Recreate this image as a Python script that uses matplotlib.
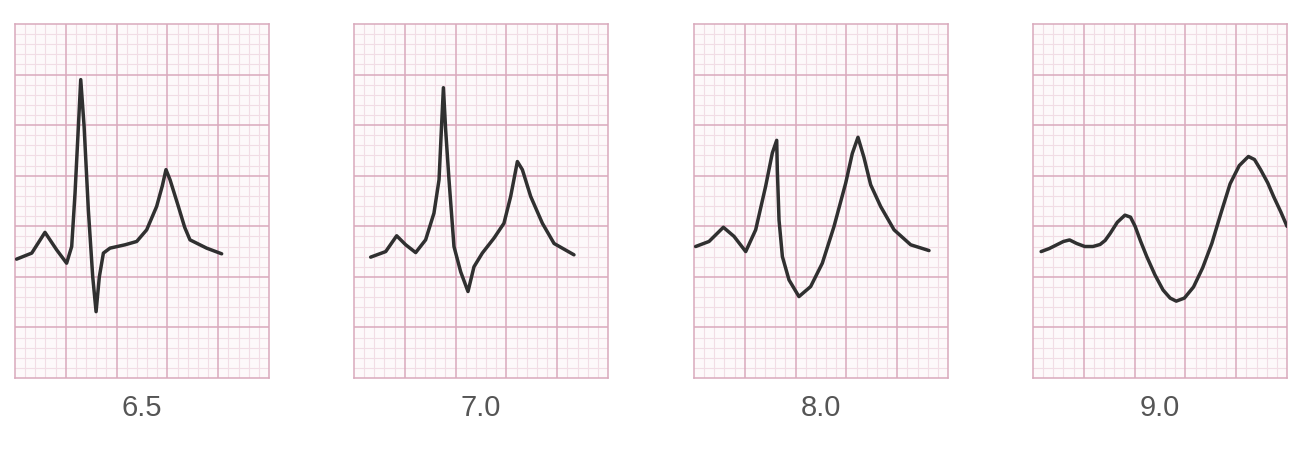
import matplotlib.pyplot as plt

# potassium levels shown under each strip
labels = ["6.5", "7.0", "8.0", "9.0"]

# traces, in mm (x: 0..25, y: 0..35)
x_65 = [0.15, 1.65, 2.95, 4.1, 5.08, 5.58, 5.91, 6.24, 6.47, 6.8, 7.22, 7.65, 7.98, 8.3, 8.7, 9.35,
        10.83, 11.98, 12.96, 13.94, 14.5, 14.86, 15.26, 16.08, 16.7, 17.22, 18.86, 20.34]
y_65 = [11.75, 12.35, 14.4, 12.67, 11.35, 13.0, 18.3, 24.9, 29.5, 24.9, 16.6, 10.0, 6.56, 10.0, 12.35,
        12.84, 13.17, 13.5, 14.65, 16.96, 19.0, 20.6, 19.6, 16.96, 14.9, 13.66, 12.84, 12.28]

x_70 = [1.64, 3.12, 4.2, 5.09, 6.07, 7.05, 7.87, 8.37, 8.6, 8.8, 9.02, 9.35, 9.84, 10.5, 11.22, 11.81,
        12.63, 13.78, 14.76, 15.42, 16.08, 16.57, 17.39, 18.54, 19.69, 21.65]
y_70 = [11.95, 12.5, 14.06, 13.17, 12.4, 13.66, 16.3, 19.6, 24.55, 28.7, 24.55, 19.6, 13.0, 10.5, 8.55,
        11.0, 12.35, 13.83, 15.3, 17.95, 21.4, 20.6, 17.95, 15.3, 13.3, 12.18]

x_80 = [0.16, 1.48, 2.89, 3.94, 5.09, 6.07, 7.05, 7.71, 8.14, 8.2, 8.37, 8.7, 9.35, 10.33, 11.48, 12.63,
        13.78, 14.93, 15.58, 16.14, 16.73, 17.39, 18.37, 19.69, 21.33, 23.13]
y_80 = [13.0, 13.5, 14.9, 14.0, 12.5, 14.65, 18.95, 22.25, 23.5, 20.6, 15.6, 12.0, 9.7, 8.05, 9.04, 11.35,
        14.98, 19.27, 22.2, 23.8, 21.8, 19.1, 16.96, 14.65, 13.17, 12.6]

x_90 = [0.8, 1.6, 2.3, 3.0, 3.6, 4.3, 5.1, 5.9, 6.6, 7.1, 7.6, 8.3, 9.05, 9.6, 10.05, 10.6, 11.2,
        12.0, 12.8, 13.5, 14.1, 14.9, 15.8, 16.7, 17.6, 18.5, 19.4, 20.3, 21.2, 21.8, 22.4, 23.1,
        23.7, 24.4, 25.0]
y_90 = [12.5, 12.8, 13.15, 13.5, 13.65, 13.3, 13.0, 13.0, 13.2, 13.6, 14.3, 15.4, 16.1, 15.9, 15.0,
        13.5, 12.0, 10.2, 8.7, 7.9, 7.6, 7.9, 9.0, 10.9, 13.3, 16.3, 19.2, 21.0, 21.9, 21.6, 20.6,
        19.3, 17.9, 16.4, 15.0]

traces = [(x_65, y_65), (x_70, y_70), (x_80, y_80), (x_90, y_90)]
lefts = [15, 354, 694, 1033]  # px

major_col = "#d9a9bc"
minor_col = "#f1dde5"

fig = plt.figure(figsize=(13.14, 4.62), dpi=100)

for i in range(4):
    ax = fig.add_axes([lefts[i] / 1314, 84 / 462, 254 / 1314, 354 / 462])
    ax.set_xlim(0, 25)
    ax.set_ylim(0, 35)
    ax.set_facecolor("#fdf9fa")
    for v in range(1, 25):
        ax.axvline(v, color=major_col if v % 5 == 0 else minor_col,
                   lw=1.1 if v % 5 == 0 else 0.8, zorder=1 if v % 5 == 0 else 0)
    for h in range(1, 35):
        ax.axhline(h, color=major_col if h % 5 == 0 else minor_col,
                   lw=1.1 if h % 5 == 0 else 0.8, zorder=1 if h % 5 == 0 else 0)
    xs, ys = traces[i]
    ax.plot(xs, ys, color="#303030", lw=2.5, solid_joinstyle="round", solid_capstyle="round", zorder=3)
    ax.set_xticks([])
    ax.set_yticks([])
    for s in ax.spines.values():
        s.set_color(major_col)
        s.set_linewidth(1.1)
    ax.text(0.5, -0.085, labels[i], transform=ax.transAxes, ha="center", va="center",
            fontsize=21, color="#555555", family="Liberation Sans")

fig.savefig("out.png", dpi=100)
